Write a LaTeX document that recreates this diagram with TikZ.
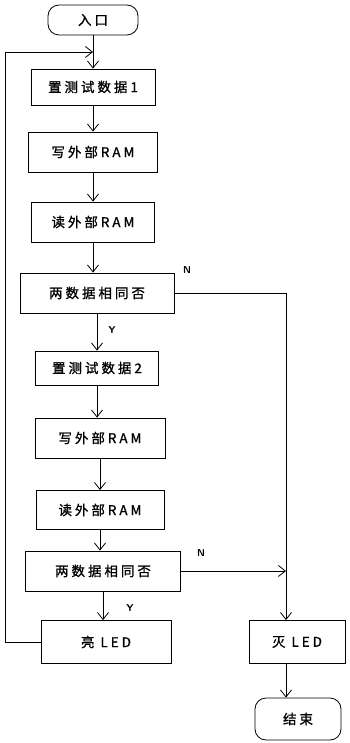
\documentclass[tikz,border=0pt]{standalone}
\usepackage{fontspec}
\newfontfamily\cjk[LetterSpace=22,FakeBold=1]{Noto Sans CJK SC}
\usetikzlibrary{arrows.meta,positioning,calc}

\begin{document}
\begin{tikzpicture}[
  x=1pt, y=-1pt,
  >={Straight Barb[length=7pt,width=11pt]},
  every node/.style={font=\cjk\fontsize{13.5}{15}\selectfont},
  every path/.style={line width=0.8pt},
  procbox/.style={draw, rectangle, inner sep=0pt},
  termbox/.style={draw, rectangle, rounded corners=11pt, inner sep=0pt},
  branch/.style={font=\sffamily\bfseries\normalsize},
]
\useasboundingbox (0,0) rectangle (349,743);

% Left column
\node[termbox, minimum width=90pt, minimum height=30pt] (entry) at (93,20) {入口};
\node[procbox, minimum width=124pt, minimum height=36pt] (set1) at (93,87) {置测试数据1};
\node[procbox, minimum width=129pt, minimum height=40pt] (write1) at (93,152) {写外部RAM};
\node[procbox, minimum width=123pt, minimum height=40pt] (read1) at (93,222) {读外部RAM};
\node[procbox, minimum width=154pt, minimum height=40pt] (cmp1) at (97,293) {两数据相同否};
\node[procbox, minimum width=123pt, minimum height=34pt] (set2) at (97,368) {置测试数据2};
\node[procbox, minimum width=130pt, minimum height=40pt] (write2) at (100,438) {写外部RAM};
\node[procbox, minimum width=128pt, minimum height=39pt] (read2) at (100,510) {读外部RAM};
\node[procbox, minimum width=155pt, minimum height=40pt] (cmp2) at (103,571) {两数据相同否};
\node[procbox, minimum width=130pt, minimum height=43pt] (ledon) at (106,642) {亮 LED};

% Right column
\node[procbox, minimum width=96pt, minimum height=43pt] (ledoff) at (297,642) {灭 LED};
\node[termbox, minimum width=86pt, minimum height=42pt] (finish) at (298,719) {结束};

\coordinate (join) at (93,52);
\coordinate (back) at (5,52);
\coordinate (rail) at (286,293);

% Main flow
\draw[->] (entry.south) -- (entry.south |- set1.north);
\draw[->] (set1.south) -- (set1.south |- write1.north);
\draw[->] (write1.south) -- (write1.south |- read1.north);
\draw[->] (read1.south) -- (read1.south |- cmp1.north);
\draw[->] (cmp1.south) -- (cmp1.south |- set2.north);
\draw[->] (set2.south) -- (set2.south |- write2.north);
\draw[->] (write2.south) -- (write2.south |- read2.north);
\draw[->] (read2.south) -- (read2.south |- cmp2.north);
\draw[->] (cmp2.south) -- (cmp2.south |- ledon.north);

% Branches to the right
\draw[->] (cmp1.east) -- (rail) -- (rail |- ledoff.north);
\draw[->] (cmp2.east) -- (cmp2.east -| rail);
\draw[->] (ledoff.south -| rail) -- (rail |- finish.north);

% Loop back
\draw[->] (ledon.west) -| (back) -- (join);

% Labels
\node[branch] (n1) at (187,270) {N};
\node[branch] (y1) at (112,330) {Y};
\node[branch] (n2) at (201,553) {N};
\node[branch] (y2) at (130,608) {Y};
\end{tikzpicture}
\end{document}
